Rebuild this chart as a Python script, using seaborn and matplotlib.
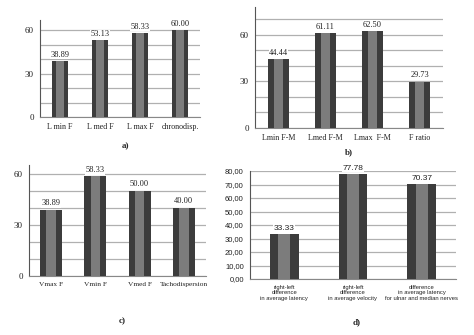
import matplotlib
matplotlib.use("Agg")
import matplotlib.pyplot as plt
import seaborn as sns
import pandas as pd

sns.set_style("white")

cats_a = ["L min F", "L med F", "L max F", "chronodisp."]
vals_a = [38.89, 53.13, 58.33, 60.00]
cats_b = ["Lmin F-M", "Lmed F-M", "Lmax  F-M", "F ratio"]
vals_b = [44.44, 61.11, 62.50, 29.73]
cats_c = ["Vmax F", "Vmin F", "Vmed F", "Tachodispersion"]
vals_c = [38.89, 58.33, 50.00, 40.00]
cats_d = ["right-left\ndifference\nin average latency",
          "right-left\ndifference\nin average velocity",
          "difference\nin average latency\nfor ulnar and median nerves"]
vals_d = [33.33, 77.78, 70.37]

fig = plt.figure(figsize=(4.74, 3.35), dpi=100)

SERIF = "Liberation Serif"
SANS = "Liberation Sans"

def panel(rect, cats, vals, ylim, grid_max, grid_step, ticks, ticklabels, width,
          caption, cap_xy, fam, lblsize, ticksize):
    ax = fig.add_axes(rect)
    df = pd.DataFrame({"cat": cats, "val": vals})
    sns.barplot(data=df, x="cat", y="val", color="#3c3c3c", width=width,
                saturation=1, ax=ax, zorder=3, linewidth=0)
    sns.barplot(data=df, x="cat", y="val", color="#7c7c7c", width=width * 0.42,
                saturation=1, ax=ax, zorder=4, linewidth=0)
    ax.set_ylim(*ylim)
    g = 0
    while g <= grid_max + 1e-9:
        ax.axhline(g, color="#b0b0b0", lw=0.9, zorder=1)
        g += grid_step
    ax.set_yticks(ticks)
    ax.set_yticklabels(ticklabels, fontsize=ticksize, family=fam, color="#222222")
    ax.tick_params(axis="y", length=2.5, width=0.6, pad=2, color="#444444")
    ax.tick_params(axis="x", length=0, pad=4)
    ax.set_xlabel("")
    ax.set_ylabel("")
    for lab in ax.get_xticklabels():
        lab.set_fontsize(lblsize)
        lab.set_family(fam)
        lab.set_color("#222222")
    for s in ["top", "right"]:
        ax.spines[s].set_visible(False)
    ax.spines["left"].set_color("#555555")
    ax.spines["left"].set_linewidth(0.8)
    ax.spines["bottom"].set_color("#888888")
    ax.spines["bottom"].set_linewidth(0.8)
    for i, v in enumerate(vals):
        ax.text(i, v + (ylim[1] - ylim[0]) * 0.02, f"{v:.2f}", ha="center", va="bottom",
                fontsize=6, family=fam, color="#222222", zorder=6,
                bbox=dict(facecolor="white", edgecolor="none", pad=0.3))
    fig.text(cap_xy[0] / 474, 1 - cap_xy[1] / 335, caption, ha="center", va="center",
             fontsize=6.5, family=SERIF, weight="bold")
    return ax

W, H = 474, 335
def rect(l, r, b, t):
    return [l / W, 1 - b / H, (r - l) / W, (b - t) / H]

panel(rect(40, 200, 117, 20), cats_a, vals_a, (0, 67), 60, 10,
      [0, 30, 60], ["0", "30", "60"], 0.42, "a)", (125, 146), SERIF, 5.8, 6.5)
panel(rect(255, 443, 128, 7), cats_b, vals_b, (0, 78), 70, 10,
      [0, 30, 60], ["0", "30", "60"], 0.44, "b)", (349, 152), SERIF, 5.8, 6.5)
panel(rect(29, 206, 276, 165), cats_c, vals_c, (0, 65), 60, 10,
      [0, 30, 60], ["0", "30", "60"], 0.5, "c)", (122, 321), SERIF, 5.3, 6.5)
panel(rect(250, 456, 279, 171), cats_d, vals_d, (0, 80), 80, 10,
      list(range(0, 81, 10)), [f"{t},00" for t in range(0, 81, 10)], 0.42,
      "d)", (357, 322), SANS, 4.2, 5.5)

fig.savefig("out.png", dpi=100, facecolor="white")
